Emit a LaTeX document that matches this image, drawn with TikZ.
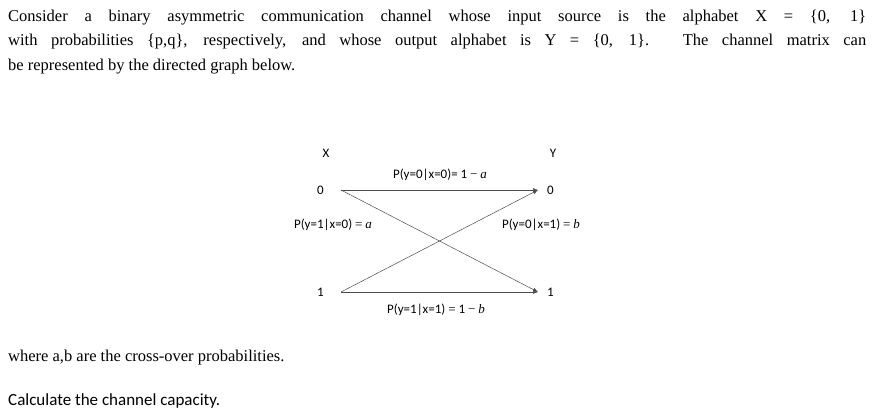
\documentclass[tikz,border=0pt]{standalone}
\usepackage{fontspec}
\usetikzlibrary{arrows.meta}
\setmainfont{Liberation Serif}
\newfontfamily\calfnt{Carlito}
\newfontfamily\mifnt{Liberation Serif}
\begin{document}
\begin{tikzpicture}[x=1pt,y=-1pt,
  lab/.style={font=\calfnt\fontsize{13}{15}\selectfont,inner sep=1pt},
  ln/.style={draw=black!70,line width=0.5pt},
  arr/.style={ln,-{Latex[length=5pt,width=4pt]}},
  txt/.style={anchor=base west,inner sep=0pt,font=\fontsize{16.5}{20}\selectfont}]
\useasboundingbox (0,0) rectangle (875,417);
\node[txt] (l1) at (8,22) {\makebox[858pt][s]{Consider a binary asymmetric communication channel whose input source is the alphabet X = \{0, 1\}}};
\node[txt] (l2) at (8,46) {\makebox[858pt][s]{with probabilities \{p,q\}, respectively, and whose output alphabet is Y = \{0, 1\}. The channel matrix can}};
\node[txt] (l3) at (8,71) {be represented by the directed graph below.};
\node[lab] (X) at (326,153) {X};
\node[lab] (Y) at (553,153) {Y};
\node[lab,anchor=east] (x0) at (325,190) {0};
\node[lab,anchor=east] (x1) at (325,292) {1};
\node[lab,anchor=west] (y0) at (546,190) {0};
\node[lab,anchor=west] (y1) at (546,292) {1};
\coordinate (a0) at (341,190); \coordinate (a1) at (341,292);
\coordinate (b0) at (538,190); \coordinate (b1) at (538,292);
\draw[arr] (a0) -- (b0);
\draw[arr] (a0) -- (b1);
\draw[arr] (a1) -- (b0);
\draw[arr] (a1) -- (b1);
\node[lab] (t) at (440,175) {P(y=0|x=0)= 1 {\mifnt−} {\mifnt\itshape a}};
\node[lab] (l) at (333,225) {P(y=1|x=0) {\mifnt=} {\mifnt\itshape a}};
\node[lab] (r) at (541,225) {P(y=0|x=1) {\mifnt=} {\mifnt\itshape b}};
\node[lab] (b) at (436,310) {P(y=1|x=1) {\mifnt=} 1 {\mifnt−} {\mifnt\itshape b}};
\node[txt] (w) at (8,361) {where a,b are the cross-over probabilities.};
\node[txt,font=\calfnt\fontsize{17}{20}\selectfont] (c) at (8,405) {Calculate the channel capacity.};
\end{tikzpicture}
\end{document}
